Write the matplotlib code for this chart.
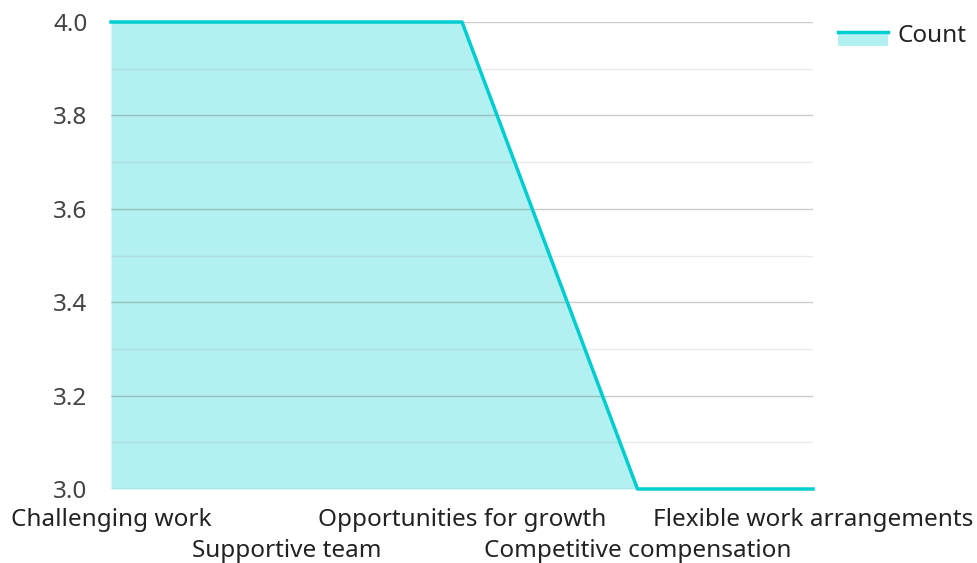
import matplotlib.pyplot as plt
from matplotlib.legend_handler import HandlerBase
from matplotlib.patches import Rectangle
from matplotlib.lines import Line2D

plt.rcParams['font.family'] = ['Noto Sans', 'DejaVu Sans']

categories = ["Challenging work", "Supportive team", "Opportunities for growth",
              "Competitive compensation", "Flexible work arrangements"]
counts = [4, 4, 4, 3, 3]
yticks = [3.0, 3.2, 3.4, 3.6, 3.8, 4.0]

line_col = "#00CED1"
text_col = "#444444"
fs = 17.5


class AreaHandler(HandlerBase):
    # legend key: line through the middle with the fill hanging below it
    def create_artists(self, legend, orig, xd, yd, w, h, fontsize, trans):
        mid = yd + h * 0.5
        r = Rectangle((xd, mid - h * 0.75), w, h * 0.75, facecolor=line_col, alpha=0.3,
                      edgecolor="none", transform=trans)
        l = Line2D([xd, xd + w], [mid, mid], color=line_col, lw=2.5, transform=trans)
        return [r, l]


fig = plt.figure(figsize=(9.78, 5.63), dpi=100)
ax = fig.add_axes([111 / 978, 1 - 489 / 563, (813 - 111) / 978, (489 - 22) / 563])

x = list(range(len(categories)))
ax.fill_between(x, counts, 3.0, color=line_col, alpha=0.3, lw=0, zorder=1)
ax.plot(x, counts, color=line_col, lw=2.5, zorder=3, clip_on=False)

ax.set_xlim(0, len(categories) - 1)
ax.set_ylim(3.0, 4.0)
ax.set_yticks(yticks)
ax.set_yticklabels([f"{v:.1f}" for v in yticks])
ax.set_yticks([3.1, 3.3, 3.5, 3.7, 3.9], minor=True)
ax.set_xticks(x)
ax.set_xticklabels(categories)

ax.grid(axis="y", which="major", color="#555555", alpha=0.3, lw=1, zorder=2)
ax.grid(axis="y", which="minor", color="#999999", alpha=0.2, lw=1, zorder=2)
ax.set_axisbelow(False)
for s in ax.spines.values():
    s.set_visible(False)

ax.tick_params(axis="y", which="both", length=0, pad=17, labelsize=fs, labelcolor=text_col)
ax.tick_params(axis="x", length=0, labelsize=fs, labelcolor="#222222")
for i, t in enumerate(ax.xaxis.get_major_ticks()):
    t.set_pad(13.5 if i % 2 == 0 else 36)

ax.legend([object()], ["Count"], handler_map={object: AreaHandler()},
          loc="upper left", bbox_to_anchor=(838 / 978, 1 - 24 / 563),
          bbox_transform=fig.transFigure, frameon=False, fontsize=fs,
          handlelength=2.06, handleheight=0.8, handletextpad=0.37,
          borderaxespad=0, borderpad=0, labelcolor="#222222")

fig.savefig("out.png", dpi=100)
